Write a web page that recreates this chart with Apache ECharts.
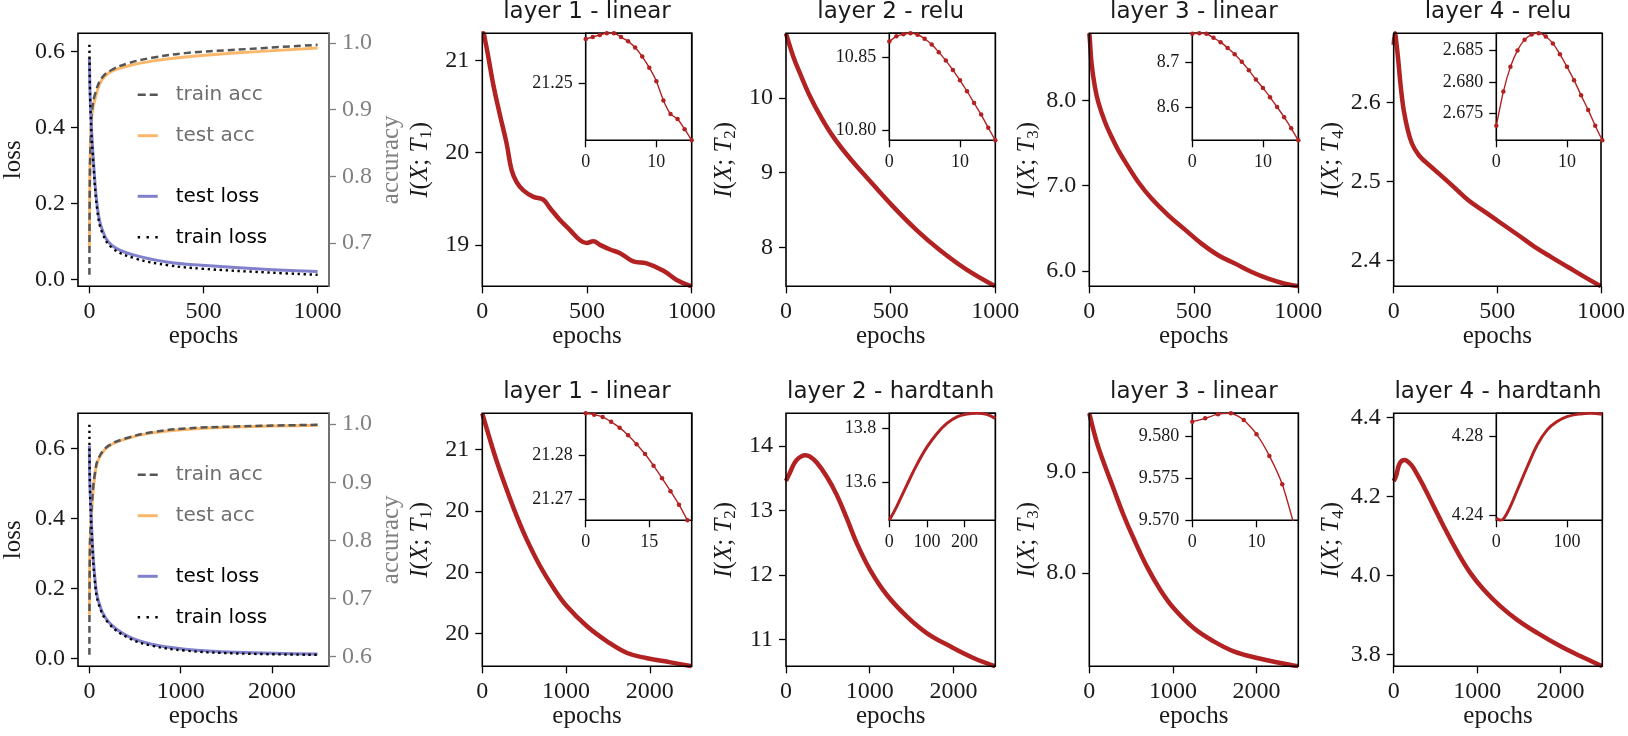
<!DOCTYPE html>
<html>
<head>
<meta charset="utf-8">
<title>loss, accuracy and I(X;T) per layer</title>
<script src="https://cdn.jsdelivr.net/npm/echarts@6.0.0/dist/echarts.min.js"></script>
<style>
html, body { margin: 0; padding: 0; background: #fff; }
#chart { width: 1628px; height: 736px; }
</style>
</head>
<body>
<div id="chart"></div>
<script>
// ---------- top row: relu network, 1000 epochs ----------
var lossEpochsA = [0, 5, 19, 35, 55, 99, 201, 347, 493, 784, 1000];
var testLossA = [0.582, 0.45, 0.30, 0.19, 0.133, 0.089, 0.063, 0.045, 0.037, 0.026, 0.021];
var trainLossA = [0.617, 0.44, 0.29, 0.18, 0.125, 0.083, 0.055, 0.037, 0.028, 0.018, 0.012];
var accEpochsA = [0, 2, 6, 12, 26, 55, 99, 172, 274, 420, 638, 1000];
var trainAccA = [0.652, 0.80, 0.86, 0.90, 0.925, 0.948, 0.960, 0.970, 0.978, 0.985, 0.990, 0.9975];
var testAccA = [0.694, 0.80, 0.86, 0.895, 0.918, 0.945, 0.958, 0.966, 0.973, 0.979, 0.985, 0.9926];

var miEpochsA1 = [0, 4, 15, 30, 53, 84, 116, 140, 164, 196, 244, 291, 323, 371, 419, 467, 498, 530, 562, 610, 658, 721, 785, 865, 928, 1000];
var miA1 = [21.288, 21.293, 21.20, 21.02, 20.73, 20.41, 20.10, 19.81, 19.68, 19.59, 19.52, 19.49, 19.40, 19.27, 19.16, 19.05, 19.02, 19.04, 19.00, 18.95, 18.91, 18.82, 18.80, 18.72, 18.62, 18.551];
var miEpochsA2 = [0, 35, 67, 115, 162, 226, 306, 385, 497, 624, 736, 863, 1000];
var miA2 = [10.868, 10.555, 10.33, 10.02, 9.77, 9.48, 9.19, 8.94, 8.59, 8.23, 7.96, 7.70, 7.477];
var miEpochsA3 = [0, 3, 11, 27, 43, 75, 107, 139, 187, 234, 298, 378, 458, 537, 617, 697, 777, 856, 936, 1000];
var miA3 = [8.786, 8.70, 8.43, 8.156, 7.98, 7.746, 7.57, 7.414, 7.22, 7.043, 6.848, 6.652, 6.484, 6.32, 6.184, 6.086, 5.988, 5.91, 5.85, 5.82];
var miEpochsA4 = [0, 6, 15, 24, 32, 40, 48, 64, 88, 120, 152, 200, 280, 360, 440, 520, 600, 680, 760, 840, 920, 1000];
var miA4 = [2.673, 2.6877, 2.6708, 2.648, 2.625, 2.606, 2.591, 2.5695, 2.548, 2.5335, 2.525, 2.514, 2.4953, 2.476, 2.4614, 2.4466, 2.432, 2.417, 2.404, 2.3915, 2.379, 2.367];

var insetEpochsA = [0, 1, 2, 3, 4, 5, 6, 7, 8, 9, 10, 11, 12, 13, 14, 15];
var insetA1 = [21.2878, 21.2895, 21.2913, 21.2927, 21.2927, 21.2895, 21.2858, 21.2805, 21.2727, 21.2631, 21.2515, 21.2349, 21.2233, 21.2189, 21.2102, 21.2006];
var insetA2 = [10.861, 10.8646, 10.866, 10.8667, 10.8657, 10.863, 10.859, 10.8538, 10.848, 10.8415, 10.8345, 10.827, 10.819, 10.811, 10.802, 10.7934];
var insetA3 = [8.765, 8.766, 8.765, 8.756, 8.746, 8.733, 8.719, 8.702, 8.683, 8.662, 8.643, 8.622, 8.600, 8.577, 8.552, 8.525];
var insetA4 = [2.6731, 2.6785, 2.6824, 2.6850, 2.6867, 2.6875, 2.6877, 2.6872, 2.6861, 2.6844, 2.6824, 2.6803, 2.6779, 2.6756, 2.6731, 2.6708];

// ---------- bottom row: hardtanh network, 2500 epochs ----------
var lossEpochsB = [0, 5, 29, 60, 102, 211, 430, 685, 1049, 1596, 2500];
var testLossB = [0.607, 0.50, 0.35, 0.23, 0.161, 0.104, 0.062, 0.040, 0.026, 0.017, 0.012];
var trainLossB = [0.668, 0.50, 0.34, 0.22, 0.155, 0.100, 0.058, 0.036, 0.022, 0.014, 0.010];
var accEpochsB = [0, 5, 29, 60, 102, 211, 430, 685, 1049, 1596, 2500];
var trainAccB = [0.603, 0.78, 0.865, 0.915, 0.942, 0.963, 0.977, 0.986, 0.9925, 0.996, 0.9989];
var testAccB = [0.672, 0.78, 0.86, 0.912, 0.940, 0.962, 0.976, 0.985, 0.991, 0.995, 0.998];

var miEpochsB1 = [0, 92, 172, 291, 411, 531, 691, 850, 1010, 1250, 1489, 1729, 1968, 2248, 2500];
var miB1 = [21.295, 21.08, 20.905, 20.674, 20.457, 20.266, 20.049, 19.872, 19.723, 19.56, 19.4375, 19.342, 19.30, 19.266, 19.234];
var miEpochsB2 = [0, 48, 127, 233, 282, 367, 486, 606, 725, 845, 1004, 1203, 1442, 1681, 1960, 2239, 2500];
var miB2 = [13.458, 13.59, 13.781, 13.856, 13.837, 13.742, 13.526, 13.242, 12.881, 12.495, 12.082, 11.696, 11.361, 11.103, 10.897, 10.716, 10.588];
var miEpochsB3 = [0, 88, 168, 288, 408, 528, 688, 848, 1008, 1248, 1488, 1728, 2008, 2288, 2500];
var miB3 = [9.583, 9.30, 9.106, 8.84, 8.578, 8.347, 8.066, 7.835, 7.653, 7.455, 7.323, 7.224, 7.158, 7.109, 7.076];
var miEpochsB4 = [0, 30, 72, 133, 190, 240, 360, 480, 600, 760, 920, 1080, 1280, 1480, 1720, 2000, 2280, 2500];
var miB4 = [4.2386, 4.253, 4.2834, 4.2918, 4.284, 4.271, 4.225, 4.1745, 4.124, 4.061, 4.006, 3.964, 3.922, 3.888, 3.855, 3.821, 3.792, 3.7706];

var insetEpochsB1 = [0, 2, 4, 6, 8, 10, 12, 14, 16, 18, 20, 22, 24];
var insetB1 = [21.2893, 21.289, 21.2885, 21.2874, 21.2861, 21.2844, 21.2824, 21.2802, 21.2776, 21.2748, 21.2719, 21.2689, 21.2654];
var insetEpochsB2 = [0, 20, 47, 73, 100, 127, 153, 180, 206, 233, 259, 282];
var insetB2 = [13.458, 13.51, 13.59, 13.664, 13.73, 13.781, 13.8185, 13.843, 13.853, 13.856, 13.852, 13.837];
var insetEpochsB3 = [0, 2, 4, 6, 8, 10, 12, 14, 16];
var insetB3 = [9.5818, 9.5822, 9.5827, 9.5828, 9.5820, 9.5803, 9.5777, 9.5743, 9.5690];
var insetEpochsB4 = [0, 6, 11, 20, 30, 44, 58, 72, 86, 100, 119, 133, 150];
var insetB4 = [4.2386, 4.2375, 4.2386, 4.2446, 4.253, 4.2648, 4.2758, 4.2834, 4.2876, 4.2901, 4.2915, 4.2918, 4.2913];

// ---------- titles and tick labels ----------
var titlesA = ['layer 1 - linear', 'layer 2 - relu', 'layer 3 - linear', 'layer 4 - relu'];
var titlesB = ['layer 1 - linear', 'layer 2 - hardtanh', 'layer 3 - linear', 'layer 4 - hardtanh'];

var lossTicks = [0, 0.2, 0.4, 0.6], lossLabels = ['0.0', '0.2', '0.4', '0.6'];
var accTicksA = [0.7, 0.8, 0.9, 1.0], accLabelsA = ['0.7', '0.8', '0.9', '1.0'];
var accTicksB = [0.6, 0.7, 0.8, 0.9, 1.0], accLabelsB = ['0.6', '0.7', '0.8', '0.9', '1.0'];
var epochTicksA = [0, 500, 1000], epochLabelsA = ['0', '500', '1000'];
var epochTicksB = [0, 1000, 2000], epochLabelsB = ['0', '1000', '2000'];

var miTicksA1 = [19, 20, 21], miLabelsA1 = ['19', '20', '21'];
var miTicksA2 = [8, 9, 10], miLabelsA2 = ['8', '9', '10'];
var miTicksA3 = [6, 7, 8], miLabelsA3 = ['6.0', '7.0', '8.0'];
var miTicksA4 = [2.4, 2.5, 2.6], miLabelsA4 = ['2.4', '2.5', '2.6'];
var insetYTicksA1 = [21.20, 21.25], insetYLabelsA1 = ['21.20', '21.25'];
var insetYTicksA2 = [10.80, 10.85], insetYLabelsA2 = ['10.80', '10.85'];
var insetYTicksA3 = [8.6, 8.7], insetYLabelsA3 = ['8.6', '8.7'];
var insetYTicksA4 = [2.675, 2.680, 2.685], insetYLabelsA4 = ['2.675', '2.680', '2.685'];
var insetXTicksA = [0, 10], insetXLabelsA = ['0', '10'];

var miTicksB1 = [19.5, 20, 20.5, 21], miLabelsB1 = ['20', '20', '20', '21'];
var miTicksB2 = [11, 12, 13, 14], miLabelsB2 = ['11', '12', '13', '14'];
var miTicksB3 = [8, 9], miLabelsB3 = ['8.0', '9.0'];
var miTicksB4 = [3.8, 4.0, 4.2, 4.4], miLabelsB4 = ['3.8', '4.0', '4.2', '4.4'];
var insetYTicksB1 = [21.27, 21.28], insetYLabelsB1 = ['21.27', '21.28'];
var insetXTicksB1 = [0, 15], insetXLabelsB1 = ['0', '15'];
var insetYTicksB2 = [13.6, 13.8], insetYLabelsB2 = ['13.6', '13.8'];
var insetXTicksB2 = [0, 100, 200], insetXLabelsB2 = ['0', '100', '200'];
var insetYTicksB3 = [9.570, 9.575, 9.580], insetYLabelsB3 = ['9.570', '9.575', '9.580'];
var insetXTicksB3 = [0, 10], insetXLabelsB3 = ['0', '10'];
var insetYTicksB4 = [4.24, 4.28], insetYLabelsB4 = ['4.24', '4.28'];
var insetXTicksB4 = [0, 100], insetXLabelsB4 = ['0', '100'];

// ---------- layout / style ----------
var SERIF = '"Liberation Serif", "DejaVu Serif", serif';
var SANS = '"DejaVu Sans", sans-serif';
var INK = '#1a1a1a';
var GRAY = '#808080';
var RED = '#b22222';
var ORANGE = '#fbb86c';
var BLUE = '#8080cc';

var ROW_TOP = [33.3, 413.3];
var TITLE_TOP = [1, 381];
var PANEL_H = 253;
var PANEL_LEFT = [76, 482.3, 786, 1089.3, 1393.7];
var PANEL_W = [253, 209.4, 209.3, 209, 208.6];
var INSET_W = 106;
var INSET_H = 107;

var DASH_ICON = 'path://M0,0h8v2.4h-8z M12,0h8v2.4h-8z';
var SOLID_ICON = 'path://M0,0h20v3h-20z';
var DOT_ICON = 'path://M0,0h2.4v2.4h-2.4z M8.8,0h2.4v2.4h-2.4z M17.6,0h2.4v2.4h-2.4z';

var grid = [], xAxis = [], yAxis = [], series = [], graphic = [];

function pairs(xs, ys) {
    return xs.map(function(x, i) { return [x, ys[i]]; });
}

function lookup(ticks, labels) {
    return function(v) {
        for (var i = 0; i < ticks.length; i++) {
            if (Math.abs(ticks[i] - v) < 1e-7) return labels[i];
        }
        return '';
    };
}

function padMin(v) { return v.min - 0.05 * (v.max - v.min); }
function padMax(v) { return v.max + 0.05 * (v.max - v.min); }

function nameStyle(color) {
    return { fontFamily: SERIF, fontSize: 25, color: color };
}

var miNameStyle = {
    rich: {
        it: { fontFamily: SERIF, fontStyle: 'italic', fontSize: 25, color: INK, lineHeight: 30 },
        rm: { fontFamily: SERIF, fontSize: 25, color: INK, lineHeight: 30 },
        sub: { fontFamily: SERIF, fontSize: 17, color: INK, lineHeight: 17, verticalAlign: 'bottom' }
    }
};

function miName(k) {
    return '{it|I}{rm|(}{it|X}{rm|;}{it| T}{sub|' + k + '}{rm|)}';
}

function addGrid(left, top, width, height, inset) {
    grid.push({
        left: left, top: top, width: width, height: height,
        show: true, borderColor: '#000', borderWidth: 1.6,
        backgroundColor: inset ? '#fff' : 'transparent',
        z: inset ? 5 : 3
    });
    return grid.length - 1;
}

function makeAxis(gi, o) {
    var line = o.lineColor || '#000';
    var ax = {
        type: 'value', gridIndex: gi, position: o.position,
        min: o.min, max: o.max, scale: true,
        splitLine: { show: false },
        axisLine: { show: !!o.showLine, onZero: false, lineStyle: { color: line, width: 1.6 } },
        axisTick: { show: true, inside: false, length: 7, customValues: o.ticks, lineStyle: { color: line, width: 1.3 } },
        axisLabel: {
            customValues: o.ticks, formatter: lookup(o.ticks, o.labels), margin: 13,
            color: o.labelColor || INK, fontFamily: SERIF, fontSize: o.fontSize
        },
        z: o.z || 0
    };
    if (o.name) {
        ax.name = o.name;
        ax.nameLocation = 'middle';
        ax.nameGap = o.nameGap;
        ax.nameTextStyle = o.nameStyle;
    }
    return ax;
}

function lineSeries(name, xi, yi, xs, ys, st) {
    return {
        type: 'line', name: name, xAxisIndex: xi, yAxisIndex: yi,
        data: pairs(xs, ys),
        symbol: st.symbolSize ? 'circle' : 'none',
        symbolSize: st.symbolSize || 0,
        showSymbol: !!st.symbolSize,
        smooth: st.smooth || false,
        lineStyle: { color: st.color, width: st.width, type: st.type || 'solid', opacity: st.opacity == null ? 1 : st.opacity },
        itemStyle: { color: st.color },
        z: st.z || 2, silent: true, clip: true,
        emphasis: { disabled: true }
    };
}

function lossPanel(row, d) {
    var gi = addGrid(PANEL_LEFT[0], ROW_TOP[row], PANEL_W[0], PANEL_H, false);
    xAxis.push(makeAxis(gi, {
        position: 'bottom', min: d.xMin, max: d.xMax, ticks: d.xTicks, labels: d.xLabels,
        fontSize: 24, name: 'epochs', nameGap: 33, nameStyle: nameStyle(INK)
    }));
    var xi = xAxis.length - 1;
    yAxis.push(makeAxis(gi, {
        position: 'left', min: padMin, max: padMax, ticks: lossTicks, labels: lossLabels,
        fontSize: 24, name: 'loss', nameGap: 52, nameStyle: nameStyle(INK)
    }));
    var yl = yAxis.length - 1;
    yAxis.push(makeAxis(gi, {
        position: 'right', min: padMin, max: padMax, ticks: d.accTicks, labels: d.accLabels,
        fontSize: 24, lineColor: GRAY, labelColor: GRAY, showLine: true, z: 4,
        name: 'accuracy', nameGap: 50, nameStyle: nameStyle(GRAY)
    }));
    var ya = yAxis.length - 1;
    series.push(lineSeries('test acc', xi, ya, d.accEpochs, d.testAcc, { color: ORANGE, width: 3, smooth: 0.4 }));
    series.push(lineSeries('train acc', xi, ya, d.accEpochs, d.trainAcc, { color: '#555', width: 2.5, type: [7, 4], smooth: 0.4 }));
    series.push(lineSeries('test loss', xi, yl, d.lossEpochs, d.testLoss, { color: BLUE, width: 3, smooth: 0.4 }));
    series.push(lineSeries('train loss', xi, yl, d.lossEpochs, d.trainLoss, { color: '#000', width: 2.4, type: [2.4, 3.6], smooth: 0.4 }));
}

function miPanel(row, col, d) {
    var top = ROW_TOP[row], left = PANEL_LEFT[col], w = PANEL_W[col];
    var gi = addGrid(left, top, w, PANEL_H, false);
    xAxis.push(makeAxis(gi, {
        position: 'bottom', min: 0, max: d.xMax, ticks: d.xTicks, labels: d.xLabels,
        fontSize: 24, name: 'epochs', nameGap: 33, nameStyle: nameStyle(INK)
    }));
    yAxis.push(makeAxis(gi, {
        position: 'left', min: 'dataMin', max: d.yMax || 'dataMax', ticks: d.yTicks, labels: d.yLabels,
        fontSize: 24, name: miName(col), nameGap: 47, nameStyle: miNameStyle
    }));
    series.push(lineSeries('mi', xAxis.length - 1, yAxis.length - 1, d.epochs, d.values, { color: RED, width: 4.5, smooth: 0.4 }));

    var ins = d.inset;
    var ig = addGrid(left + w - INSET_W, top, INSET_W, INSET_H, true);
    xAxis.push(makeAxis(ig, {
        position: 'bottom', min: 0, max: ins.xMax, ticks: ins.xTicks, labels: ins.xLabels, fontSize: 18, z: 6
    }));
    yAxis.push(makeAxis(ig, {
        position: 'left', min: ins.yMin || 'dataMin', max: ins.yMax || 'dataMax',
        ticks: ins.yTicks, labels: ins.yLabels, fontSize: 18, z: 6
    }));
    series.push(lineSeries('mi inset', xAxis.length - 1, yAxis.length - 1, ins.epochs, ins.values,
        ins.dense ? { color: RED, width: 3, smooth: 0.4, z: 6 } : { color: RED, width: 1.4, symbolSize: 4.5, smooth: 0.2, z: 6 }));

    graphic.push({
        type: 'text', x: left + w / 2, y: TITLE_TOP[row], silent: true,
        style: { text: d.title, fontFamily: SANS, fontSize: 23, fill: INK, align: 'center', verticalAlign: 'top' }
    });
}

// ---------- build panels ----------
lossPanel(0, {
    xMin: -50, xMax: 1050, xTicks: epochTicksA, xLabels: epochLabelsA,
    accTicks: accTicksA, accLabels: accLabelsA,
    accEpochs: accEpochsA, trainAcc: trainAccA, testAcc: testAccA,
    lossEpochs: lossEpochsA, trainLoss: trainLossA, testLoss: testLossA
});
lossPanel(1, {
    xMin: -125, xMax: 2625, xTicks: epochTicksB, xLabels: epochLabelsB,
    accTicks: accTicksB, accLabels: accLabelsB,
    accEpochs: accEpochsB, trainAcc: trainAccB, testAcc: testAccB,
    lossEpochs: lossEpochsB, trainLoss: trainLossB, testLoss: testLossB
});

miPanel(0, 1, { title: titlesA[0], xMax: 1000, xTicks: epochTicksA, xLabels: epochLabelsA, epochs: miEpochsA1, values: miA1, yTicks: miTicksA1, yLabels: miLabelsA1,
    inset: { epochs: insetEpochsA, values: insetA1, xMax: 15, xTicks: insetXTicksA, xLabels: insetXLabelsA, yTicks: insetYTicksA1, yLabels: insetYLabelsA1 } });
miPanel(0, 2, { title: titlesA[1], xMax: 1000, xTicks: epochTicksA, xLabels: epochLabelsA, epochs: miEpochsA2, values: miA2, yTicks: miTicksA2, yLabels: miLabelsA2,
    inset: { epochs: insetEpochsA, values: insetA2, xMax: 15, xTicks: insetXTicksA, xLabels: insetXLabelsA, yTicks: insetYTicksA2, yLabels: insetYLabelsA2 } });
miPanel(0, 3, { title: titlesA[2], xMax: 1000, xTicks: epochTicksA, xLabels: epochLabelsA, epochs: miEpochsA3, values: miA3, yTicks: miTicksA3, yLabels: miLabelsA3,
    inset: { epochs: insetEpochsA, values: insetA3, xMax: 15, xTicks: insetXTicksA, xLabels: insetXLabelsA, yTicks: insetYTicksA3, yLabels: insetYLabelsA3 } });
miPanel(0, 4, { title: titlesA[3], xMax: 1000, xTicks: epochTicksA, xLabels: epochLabelsA, epochs: miEpochsA4, values: miA4, yTicks: miTicksA4, yLabels: miLabelsA4,
    inset: { epochs: insetEpochsA, values: insetA4, xMax: 15, xTicks: insetXTicksA, xLabels: insetXLabelsA, yTicks: insetYTicksA4, yLabels: insetYLabelsA4 } });

miPanel(1, 1, { title: titlesB[0], xMax: 2500, xTicks: epochTicksB, xLabels: epochLabelsB, epochs: miEpochsB1, values: miB1, yTicks: miTicksB1, yLabels: miLabelsB1,
    inset: { epochs: insetEpochsB1, values: insetB1, xMax: 25, xTicks: insetXTicksB1, xLabels: insetXLabelsB1, yTicks: insetYTicksB1, yLabels: insetYLabelsB1 } });
miPanel(1, 2, { title: titlesB[1], xMax: 2500, xTicks: epochTicksB, xLabels: epochLabelsB, epochs: miEpochsB2, values: miB2, yMax: 14.505, yTicks: miTicksB2, yLabels: miLabelsB2,
    inset: { epochs: insetEpochsB2, values: insetB2, xMax: 282, xTicks: insetXTicksB2, xLabels: insetXLabelsB2, yTicks: insetYTicksB2, yLabels: insetYLabelsB2, dense: true } });
miPanel(1, 3, { title: titlesB[2], xMax: 2500, xTicks: epochTicksB, xLabels: epochLabelsB, epochs: miEpochsB3, values: miB3, yTicks: miTicksB3, yLabels: miLabelsB3,
    inset: { epochs: insetEpochsB3, values: insetB3, xMax: 16.5, yMin: 9.570, yMax: 9.5828, xTicks: insetXTicksB3, xLabels: insetXLabelsB3, yTicks: insetYTicksB3, yLabels: insetYLabelsB3 } });
miPanel(1, 4, { title: titlesB[3], xMax: 2500, xTicks: epochTicksB, xLabels: epochLabelsB, epochs: miEpochsB4, values: miB4, yMax: 4.41, yTicks: miTicksB4, yLabels: miLabelsB4,
    inset: { epochs: insetEpochsB4, values: insetB4, xMax: 150, xTicks: insetXTicksB4, xLabels: insetXLabelsB4, yTicks: insetYTicksB4, yLabels: insetYLabelsB4, dense: true } });

// ---------- legends ----------
var accItems = [
    { name: 'train acc', icon: DASH_ICON, itemStyle: { color: '#555', borderWidth: 0 }, textStyle: { color: '#6e6e6e' } },
    { name: 'test acc', icon: SOLID_ICON, itemStyle: { color: ORANGE, borderWidth: 0 }, textStyle: { color: '#6e6e6e' } }
];
var lossItems = [
    { name: 'test loss', icon: SOLID_ICON, itemStyle: { color: BLUE, borderWidth: 0 }, textStyle: { color: '#000' } },
    { name: 'train loss', icon: DOT_ICON, itemStyle: { color: '#000', borderWidth: 0 }, textStyle: { color: '#000' } }
];

function legendBlock(top, items) {
    return {
        orient: 'vertical', left: 137.7, top: top, padding: 0,
        itemWidth: 20, itemHeight: 14, itemGap: 21, selectedMode: false,
        textStyle: { fontFamily: SANS, fontSize: 20, lineHeight: 14, padding: [0, 0, 0, 13] },
        data: items
    };
}

var myChart = echarts.init(document.getElementById('chart'), null, { renderer: 'canvas' });
myChart.setOption({
    animation: false,
    backgroundColor: '#fff',
    textStyle: { fontFamily: SERIF },
    grid: grid,
    xAxis: xAxis,
    yAxis: yAxis,
    series: series,
    legend: [legendBlock(84.7, accItems), legendBlock(186.3, lossItems), legendBlock(464.7, accItems), legendBlock(566.3, lossItems)],
    graphic: graphic
});
window.addEventListener('resize', myChart.resize);
</script>
</body>
</html>
